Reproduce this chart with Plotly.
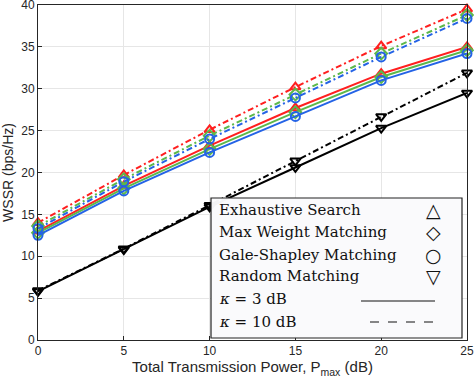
import plotly.graph_objects as go

power_db = [0, 5, 10, 15, 20, 25]

# kappa = 3 dB
exh_3 = [13.0, 18.4, 23.2, 27.7, 31.8, 35.0]
mwm_3 = [12.8, 18.1, 22.8, 27.2, 31.4, 34.6]
gs_3 = [12.5, 17.8, 22.4, 26.7, 31.0, 34.2]
rnd_3 = [5.8, 10.8, 15.9, 20.6, 25.3, 29.5]

# kappa = 10 dB
exh_10 = [14.0, 19.7, 25.1, 30.2, 35.1, 39.5]
mwm_10 = [13.6, 19.2, 24.4, 29.3, 34.2, 38.8]
gs_10 = [13.3, 18.9, 24.0, 28.9, 33.8, 38.4]
rnd_10 = [5.9, 10.9, 16.1, 21.4, 26.7, 31.9]

legend_labels = ["Exhaustive Search", "Max Weight Matching", "Gale-Shapley Matching",
                 "Random Matching", "<i>κ</i> = 3 dB", "<i>κ</i> = 10 dB"]
legend_glyphs = ["△", "◇", "○", "▽"]

RED = "#ff1f1f"
GREEN = "#5cb84a"
BLUE = "#2463e6"
BLACK = "#000000"
DASH10 = "6px,3px,2px,3px"

series = [
    (exh_3, RED, "triangle-up-open", "solid"),
    (mwm_3, GREEN, "diamond-open", "solid"),
    (gs_3, BLUE, "circle-open", "solid"),
    (rnd_3, BLACK, "triangle-down-open", "solid"),
    (exh_10, RED, "triangle-up-open", DASH10),
    (mwm_10, GREEN, "diamond-open", DASH10),
    (gs_10, BLUE, "circle-open", DASH10),
    (rnd_10, BLACK, "triangle-down-open", DASH10),
]

fig = go.Figure()
for vals, col, sym, dash in series:
    fig.add_trace(go.Scatter(
        x=power_db, y=vals, mode="lines+markers",
        line=dict(color=col, width=2, dash=dash),
        marker=dict(symbol=sym, size=9, color=col, line=dict(width=2, color=col)),
        showlegend=False, cliponaxis=False))

# plot-area geometry (pixels) used to place the custom legend
PL, PR, PT, PB = 38, 467, 5, 340
def px(x):
    return (x - PL) / (PR - PL)
def py(y):
    return (PB - y) / (PB - PT)

# custom legend (text left, symbol right, as in the original)
fig.add_shape(type="rect", xref="paper", yref="paper", x0=px(211), x1=px(462),
              y0=py(338), y1=py(198),
              fillcolor="rgba(250,250,252,0.97)", line=dict(color="#222222", width=1.2),
              layer="above")
row_px = [210, 232, 255, 276, 299, 322]
for lab, rp in zip(legend_labels, row_px):
    fig.add_annotation(x=px(217), y=py(rp), xref="paper", yref="paper", text=lab,
                       showarrow=False, xanchor="left", yanchor="middle",
                       font=dict(family="DejaVu Serif", size=15, color="#111111"))
for g, rp in zip(legend_glyphs, row_px[:4]):
    fig.add_annotation(x=px(433), y=py(rp), xref="paper", yref="paper", text=g,
                       showarrow=False, xanchor="center", yanchor="middle",
                       font=dict(family="DejaVu Sans", size=19, color="#111111"))
fig.add_shape(type="line", xref="paper", yref="paper", x0=px(361), x1=px(435),
              y0=py(row_px[4] + 2), y1=py(row_px[4] + 2), line=dict(color="#111111", width=1.2),
              layer="above")
fig.add_shape(type="line", xref="paper", yref="paper", x0=px(370), x1=px(437),
              y0=py(row_px[5]), y1=py(row_px[5]), line=dict(color="#111111", width=1.2, dash="dash"),
              layer="above")

axis_common = dict(showline=True, linecolor="#262626", linewidth=1, mirror=True,
                   ticks="inside", ticklen=4, tickcolor="#262626", automargin=False,
                   ticklabeloverflow="allow",
                   showgrid=True, gridcolor="#e6e6e6", gridwidth=1, zeroline=False,
                   tickfont=dict(family="Liberation Sans", size=12, color="#262626"))
fig.update_layout(
    width=474, height=386,
    margin=dict(l=PL, r=474 - PR, t=PT, b=386 - PB),
    plot_bgcolor="white", paper_bgcolor="white",
    xaxis=dict(range=[0, 25], tickvals=[0, 5, 10, 15, 20, 25],
               title=dict(text="Total Transmission Power, P<sub>max</sub> (dB)", standoff=4,
                          font=dict(family="Liberation Sans", size=15, color="#262626")),
               **axis_common),
    yaxis=dict(range=[0, 40], tickvals=list(range(0, 41, 5)),
               title=dict(text="WSSR (bps/Hz)", standoff=4,
                          font=dict(family="Liberation Sans", size=14, color="#262626")),
               **axis_common),
    showlegend=False,
)
fig.write_html("out.html", config={"displayModeBar": False},
               post_script="document.body.style.margin='0';document.body.style.overflow='hidden';")
